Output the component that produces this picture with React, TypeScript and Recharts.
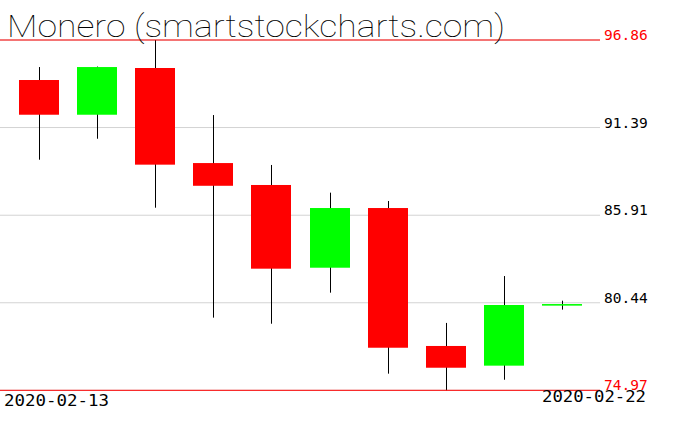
import React from "react";
import {
  ComposedChart,
  Bar,
  XAxis,
  YAxis,
  CartesianGrid,
  ReferenceLine,
} from "recharts";

const dates = [
  "2020-02-13",
  "2020-02-14",
  "2020-02-15",
  "2020-02-16",
  "2020-02-17",
  "2020-02-18",
  "2020-02-19",
  "2020-02-20",
  "2020-02-21",
  "2020-02-22",
];
const opens = [94.36, 92.19, 95.11, 89.17, 87.8, 82.63, 86.36, 77.74, 76.51, 80.26];
const closes = [92.19, 95.17, 89.07, 87.75, 82.57, 86.36, 77.63, 76.38, 80.3, 80.36];
const highs = [95.17, 95.2, 96.86, 92.17, 89.05, 87.32, 86.8, 79.18, 82.11, 80.57];
const lows = [89.38, 90.69, 86.38, 79.51, 79.13, 81.07, 76.01, 74.97, 75.63, 80.01];

const priceTicks = [74.97, 80.44, 85.91, 91.39, 96.86];
const priceMin = 74.97;
const priceMax = 96.86;

const data = dates.map((date, i) => ({
  date,
  open: opens[i],
  close: closes[i],
  high: highs[i],
  low: lows[i],
  range: [lows[i], highs[i]],
}));

const RED = "#ff0000";
const GREEN = "#00ff00";

function Candle(props: any) {
  const { x, y, width, height, payload } = props;
  if (height == null || payload == null) return null;
  const { open, close, high, low } = payload;
  const ppu = height / (high - low || 1);
  const yOf = (v: number) => y + (high - v) * ppu;
  const cx = Math.round(x + width / 2) + 0.5;
  const top = yOf(Math.max(open, close));
  const bodyH = Math.max(Math.abs(open - close) * ppu, 1.5);
  return (
    <g>
      <line x1={cx} x2={cx} y1={y} y2={y + height} stroke="#000" strokeWidth={1} />
      <rect
        x={cx - 20.5}
        y={top}
        width={40}
        height={bodyH}
        fill={close >= open ? GREEN : RED}
      />
    </g>
  );
}

function PriceTick(props: any) {
  const { y, payload } = props;
  const v = payload.value as number;
  const edge = v === priceMin || v === priceMax;
  return (
    <text
      x={604}
      y={y - 5}
      dominantBaseline="central"
      fill={edge ? RED : "#000"}
      fontFamily="DejaVu Sans Mono"
      fontSize={14.5}
    >
      {v.toFixed(2)}
    </text>
  );
}

export default function App() {
  return (
    <div style={{ position: "absolute", left: 0, top: 0, width: 676, height: 431, background: "#fff" }}>
      <ComposedChart
        width={676}
        height={431}
        data={data}
        margin={{ top: 40, right: 0, bottom: 40.7, left: 0 }}
      >
        <CartesianGrid vertical={false} stroke="#d3d3d3" />
        <XAxis dataKey="date" hide padding={{ left: 10, right: 9 }} />
        <YAxis
          orientation="right"
          width={76}
          domain={[priceMin, priceMax]}
          ticks={priceTicks}
          axisLine={false}
          tickLine={false}
          tick={<PriceTick />}
          interval={0}
        />
        <ReferenceLine y={priceMax} stroke={RED} strokeWidth={1} />
        <ReferenceLine y={priceMin} stroke={RED} strokeWidth={1} />
        <Bar dataKey="range" barSize={40} shape={<Candle />} isAnimationActive={false} />
      </ComposedChart>
      <svg
        width={676}
        height={431}
        style={{ position: "absolute", left: 0, top: 0, pointerEvents: "none" }}
      >
        <text
          x={7}
          y={37}
          fontFamily="Roboto, 'DejaVu Sans'"
          fontWeight={100}
          fontSize={31}
          textLength={498}
          lengthAdjust="spacingAndGlyphs"
          fill="#000"
        >
          Monero (smartstockcharts.com)
        </text>
        <text
          x={4}
          y={400}
          dominantBaseline="central"
          fontFamily="DejaVu Sans Mono"
          fontSize={16}
          textLength={105}
          lengthAdjust="spacingAndGlyphs"
          fill="#000"
        >
          {dates[0]}
        </text>
        <text
          x={542}
          y={396}
          dominantBaseline="central"
          fontFamily="DejaVu Sans Mono"
          fontSize={16}
          textLength={104}
          lengthAdjust="spacingAndGlyphs"
          fill="#000"
        >
          {dates[dates.length - 1]}
        </text>
      </svg>
    </div>
  );
}
